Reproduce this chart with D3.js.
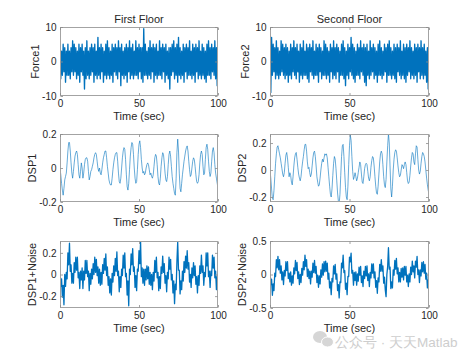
<!DOCTYPE html>
<html><head><meta charset="utf-8">
<script src="https://cdn.jsdelivr.net/npm/d3@7"></script>
<style>
body{margin:0;background:#fff}
svg{display:block}
text{font-family:"Liberation Sans",Arial,Helvetica,sans-serif;fill:#262626}
</style>
</head><body>
<svg id="c" width="474" height="356"></svg>
<script>
// Sampling interval of the values (seconds)
const tStep = 0.5;

const force1 = [
4,-5,3,-4,5,-3,4,-6,3,-4, 5,-4,3,-5,4,-3,6,-4,5,-3, 4,-5,3,-4,5,-6,4,-3,5,-4,
3,-8,4,-5,6,-4,3,-5,4,-4, 5,-3,4,-6,5,-4,3,-5,7,-4, 4,-5,5,-3,4,-6,3,-4,5,-5,
6,-4,4,-5,3,-4,5,-6,4,-3, 5,-4,4,-5,6,-3,4,-7,5,-4, 3,-5,4,-4,5,-6,4,-3,6,-5,
4,-4,5,-5,3,-4,6,-4,4,-5, 5,-3,4,-5,4,-6,9.5,-4,5,-4, 3,-5,4,-4,6,-5,4,-3,5,-6,
4,-4,5,-5,3,-4,6,-4,4,-5, 5,-3,4,-6,5,-4,3,-5,4,-8, 4,-4,5,-3,6,-5,4,-4,5,-6,
7,-4,4,-5,3,-4,5,-6,4,-3, 5,-5,4,-4,6,-4,3,-5,5,-4, 4,-6,5,-3,4,-5,6,-4,3,-5,
5,-4,4,-5,3,-6,5,-4,6,-4, 4,-5,5,-3,4,-4,6,-5,4,-7, 5];

const force2 = [
3,-9,7,-4,5,-3,4,-5,6,-4, 4,-5,3,-4,6,-3,5,-4,4,-5, 5,-4,4,-6,3,-4,5,-5,4,-3,
6,-4,4,-5,5,-3,3,-6,5,-4, 4,-5,6,-4,3,-4,5,-5,4,-6, 5,-3,4,-4,6,-5,3,-4,5,-4,
4,-6,5,-3,4,-5,3,-4,6,-4, 5,-5,4,-4,3,-6,5,-3,4,-5, 6,-4,4,-5,5,-3,4,-6,3,-4,
5,-4,6,-5,4,-7,3,-4,5,-5, 4,-3,7,-4,5,-5,4,-6,3,-4, 5,-4,4,-5,6,-3,4,-4,5,-6,
4,-7,5,-4,3,-5,6,-4,4,-3, 5,-5,4,-4,3,-6,5,-4,6,-4, 4,-5,3,-4,5,-3,4,-6,5,-4,
6,-4,4,-5,3,-4,5,-5,4,-6, 5,-3,4,-4,6,-5,3,-4,5,-5, 4,-6,5,-4,4,-3,6,-5,4,-4,
3,-5,5,-4,4,-6,5,-3,4,-5, 6,-4,4,-5,5,-4,3,-6,4,-8, 4];

const dsp1 = [
0.00,-0.04,-0.09,-0.13,-0.16,-0.12,-0.07,-0.05,-0.03,0.03,
0.10,0.15,0.15,0.10,0.03,-0.03,-0.06,-0.02,0.03,0.07,
0.09,0.10,0.08,0.02,-0.04,-0.06,-0.02,0.03,0.00,-0.06,
-0.03,0.02,0.05,0.06,0.06,0.04,-0.02,-0.07,-0.05,-0.02,
-0.01,0.01,0.03,0.06,0.08,0.09,0.08,0.04,0.00,-0.02,
0.00,-0.03,-0.04,-0.01,0.03,0.06,0.08,0.10,0.10,0.06,
0.01,-0.03,-0.07,-0.09,-0.10,-0.10,-0.06,-0.01,0.03,0.06,
0.08,0.09,0.09,0.04,-0.03,-0.08,-0.09,-0.06,0.00,0.06,
0.10,0.12,0.11,0.05,-0.04,-0.11,-0.13,-0.09,-0.01,0.07,
0.12,0.15,0.14,0.08,0.00,-0.06,-0.09,-0.08,-0.01,0.08,
0.14,0.16,0.12,0.05,0.00,-0.03,-0.02,-0.04,-0.03,0.00,
0.02,0.03,0.02,-0.01,-0.04,-0.03,-0.05,-0.06,-0.04,0.01,
0.06,0.08,0.07,0.02,-0.05,-0.09,-0.10,-0.06,0.01,0.06,
0.09,0.08,0.03,-0.03,-0.07,-0.08,-0.05,0.02,0.08,0.10,
0.07,0.01,-0.05,-0.09,-0.12,-0.15,-0.16,-0.06,0.09,0.17,
0.10,-0.03,-0.12,-0.14,-0.09,-0.04,0.00,0.04,0.07,0.10,
0.12,0.13,0.10,0.04,-0.01,-0.05,-0.04,0.00,0.04,0.06,
0.05,0.01,-0.04,-0.08,-0.09,-0.08,-0.04,0.03,0.08,0.10,
0.08,0.01,-0.04,-0.03,0.05,0.12,0.14,0.11,0.04,-0.02,
-0.05,-0.03,0.04,0.10,0.12,0.09,0.02,-0.03,-0.06,-0.09,
-0.12];

const dsp2 = [
0.00,-0.06,-0.14,-0.21,-0.22,-0.15,-0.05,0.05,0.12,0.17,
0.18,0.15,0.12,0.09,0.05,0.01,-0.03,-0.05,-0.02,0.05,
0.11,0.13,0.09,0.02,-0.05,-0.02,-0.04,-0.09,-0.11,-0.05,
0.03,0.09,0.12,0.13,0.08,0.02,-0.03,-0.06,-0.08,-0.05,
0.01,0.06,0.10,0.15,0.19,0.19,0.14,0.06,0.01,0.02,
-0.02,-0.05,-0.03,0.03,0.09,0.13,0.14,0.10,0.03,-0.05,
-0.09,-0.12,-0.11,-0.06,0.00,0.05,0.08,0.06,0.09,0.12,
0.11,0.12,0.09,0.02,-0.05,-0.12,-0.18,-0.20,-0.14,-0.04,
0.05,0.10,0.08,0.01,-0.08,-0.17,-0.23,-0.25,-0.18,-0.04,
0.10,0.18,0.19,0.10,-0.02,-0.13,-0.20,-0.22,-0.12,0.04,
0.18,0.26,0.22,0.10,-0.01,-0.07,-0.05,-0.02,-0.05,-0.08,
-0.06,-0.02,0.02,0.06,0.04,-0.03,-0.09,-0.10,-0.05,0.01,
0.04,0.05,0.04,-0.01,-0.06,-0.08,-0.05,0.02,0.07,0.10,
0.09,0.03,-0.05,-0.12,-0.17,-0.18,-0.12,-0.03,0.06,0.12,
0.14,0.12,0.04,-0.05,-0.11,-0.13,-0.07,0.06,0.18,0.27,
0.20,0.03,-0.14,-0.20,-0.12,0.00,0.08,0.13,0.15,0.14,
0.09,0.03,-0.02,-0.05,-0.04,0.00,0.04,0.03,0.01,0.04,
0.06,0.04,-0.02,-0.08,-0.10,-0.09,-0.04,0.03,0.09,0.13,
0.12,0.06,0.04,0.12,0.18,0.17,0.08,0.00,-0.03,-0.01,
0.05,0.10,0.13,0.12,0.10,0.06,0.00,-0.06,-0.11,-0.15,
-0.18];

const dsp1Noise = [
0.06,-0.11,-0.04,-0.21,-0.10,-0.28,0.00,-0.11,0.02,-0.04,
0.20,0.09,0.29,0.03,0.09,-0.08,0.01,-0.08,0.11,0.02,
0.16,0.04,0.16,-0.03,0.02,-0.13,0.03,-0.05,0.06,-0.13,
0.03,-0.05,0.13,0.01,0.13,-0.02,0.03,-0.15,0.01,-0.09,
0.05,-0.04,0.10,0.00,0.16,0.02,0.14,-0.01,0.07,-0.08,
0.05,-0.10,0.02,-0.09,0.09,0.01,0.15,0.04,0.19,-0.01,
0.07,-0.10,-0.02,-0.17,-0.04,-0.19,0.01,-0.07,0.08,-0.01,
0.15,0.03,0.21,-0.01,0.03,-0.16,-0.02,-0.12,0.05,-0.01,
0.18,0.06,0.20,-0.02,0.01,-0.19,-0.06,-0.29,0.05,0.00,
0.19,0.09,0.24,0.03,0.07,-0.12,-0.01,-0.15,0.05,0.03,
0.22,0.10,0.30,-0.02,0.06,-0.08,0.05,-0.10,0.05,-0.05,
0.08,-0.04,0.07,-0.09,0.02,-0.10,0.00,-0.14,0.02,-0.06,
0.13,0.02,0.16,-0.03,0.02,-0.15,-0.02,-0.13,0.07,0.01,
0.17,0.02,0.10,-0.08,-0.01,-0.16,0.02,-0.04,0.16,0.05,
0.14,-0.05,0.00,-0.17,-0.06,-0.27,-0.09,-0.14,0.12,0.30,
0.04,0.04,-0.18,-0.06,-0.14,0.03,-0.06,0.12,0.02,0.17,
0.06,0.22,0.05,0.11,-0.07,0.00,-0.12,0.06,-0.03,0.11,
-0.01,0.08,-0.09,-0.02,-0.17,-0.01,-0.10,0.08,0.01,0.18,
0.02,0.08,-0.10,0.02,-0.02,0.20,0.08,0.20,-0.02,0.03,
-0.12,0.03,-0.01,0.18,0.06,0.16,-0.03,0.03,-0.14,-0.02,
-0.20];

const dsp2Noise = [
0.08,-0.15,-0.07,-0.31,-0.14,-0.24,0.02,-0.03,0.22,0.10,
0.27,0.07,0.22,0.02,0.13,-0.08,0.04,-0.15,0.06,-0.02,
0.19,0.06,0.19,-0.06,0.02,-0.11,0.04,-0.16,-0.02,-0.13,
0.10,0.01,0.21,0.06,0.18,-0.06,0.04,-0.15,0.00,-0.12,
0.09,-0.01,0.19,0.07,0.29,0.12,0.22,-0.03,0.08,-0.06,
0.05,-0.14,0.05,-0.04,0.17,0.03,0.21,0.02,0.12,-0.12,
-0.01,-0.19,-0.02,-0.14,0.07,-0.04,0.16,-0.01,0.19,0.04,
0.20,0.05,0.17,-0.07,0.02,-0.20,-0.11,-0.30,-0.06,-0.11,
0.13,0.01,0.15,-0.07,0.01,-0.24,-0.15,-0.35,-0.11,-0.12,
0.17,0.10,0.29,0.03,0.06,-0.22,-0.13,-0.30,-0.03,-0.03,
0.26,0.19,0.32,0.02,0.06,-0.16,0.03,-0.09,0.04,-0.16,
0.01,-0.10,0.11,-0.01,0.12,-0.12,-0.02,-0.18,0.05,-0.06,
0.12,-0.02,0.13,-0.09,0.01,-0.18,0.03,-0.05,0.16,0.02,
0.16,-0.05,0.04,-0.19,-0.09,-0.28,-0.05,-0.11,0.15,0.05,
0.22,0.05,0.13,-0.13,-0.04,-0.23,-0.33,0.00,0.12,0.40,
0.08,0.11,-0.21,-0.11,-0.20,0.07,-0.01,0.21,0.08,0.24,
0.01,0.10,-0.11,0.03,-0.11,0.09,-0.04,0.10,-0.08,0.12,
-0.01,0.12,-0.11,-0.01,-0.18,0.01,-0.11,0.11,0.00,0.20,
0.04,0.13,-0.05,0.20,0.11,0.27,0.00,0.07,-0.12,0.07,
-0.02,0.18,0.04,0.19,0.02,0.15,-0.07,0.02,-0.20,-0.08,
-0.26];

const xDomain = [0, 100];
const xTicks = [0, 50, 100];
const xTickLabels = ["0", "50", "100"];
const xLabel = "Time (sec)";
const titles = ["First Floor", "Second Floor"];

const yLabels = ["Force1", "Force2", "DSP1", "DSP2", "DSP1+Noise", "DSP2+Noise"];
const yDomains = [[-10,10],[-10,10],[-0.2,0.2],[-0.237,0.267],[-0.31,0.31],[-0.5,0.5]];
const yTicks = [[-10,0,10],[-10,0,10],[-0.2,0,0.2],[-0.2,0,0.2],[-0.2,0,0.2],[-0.5,0,0.5]];
const yTickLabels = [["-10","0","10"],["-10","0","10"],["-0.2","0","0.2"],["-0.2","0","0.2"],["-0.2","0","0.2"],["-0.5","0","0.5"]];
const series = [force1, force2, dsp1, dsp2, dsp1Noise, dsp2Noise];

// Layout
const colX = [60, 270], colW = [158, 159];
const rowY = [27, 134, 241], rowH = [69, 68, 67];
const ylabOff = [25, 28, 28];
const lineW = [1.35, 0.6, 1.3];
const blue = "#0072BD";

const svg = d3.select("#c");

for (let k = 0; k < 6; k++) {
  const col = k % 2, row = Math.floor(k / 2);
  const L = colX[col], T = rowY[row], W = colW[col], H = rowH[row];
  const x = d3.scaleLinear().domain(xDomain).range([L, L + W]);
  const y = d3.scaleLinear().domain(yDomains[k]).range([T + H, T]);
  const g = svg.append("g");

  const cid = "clip" + k;
  svg.append("clipPath").attr("id", cid).append("rect")
    .attr("x", L).attr("y", T).attr("width", W).attr("height", H);

  const data = series[k];
  const line = d3.line().x((d, i) => x(i * tStep)).y(d => y(d));
  g.append("path").attr("d", line(data))
    .attr("clip-path", `url(#${cid})`)
    .attr("fill", "none").attr("stroke", blue)
    .attr("stroke-width", lineW[row]).attr("stroke-linejoin", "round");

  // box
  g.append("rect").attr("x", L + 0.5).attr("y", T + 0.5)
    .attr("width", W - 1).attr("height", H - 1)
    .attr("fill", "none").attr("stroke", "#a3a3a3").attr("stroke-width", 1);

  // axes with inward ticks (mirrored)
  const tl = 2.5;
  const ax = d3.axisBottom(x).tickValues(xTicks).tickSizeInner(-tl).tickSizeOuter(0)
    .tickFormat((d, i) => xTickLabels[i]).tickPadding(4);
  const gb = g.append("g").attr("transform", `translate(0,${T + H - 0.5})`).call(ax);
  const gt = g.append("g").attr("transform", `translate(0,${T + 0.5})`)
    .call(d3.axisTop(x).tickValues(xTicks).tickSizeInner(-tl).tickSizeOuter(0).tickFormat(""));
  const ay = d3.axisLeft(y).tickValues(yTicks[k]).tickSizeInner(-tl).tickSizeOuter(0)
    .tickFormat((d, i) => yTickLabels[k][i]).tickPadding(4);
  const gl = g.append("g").attr("transform", `translate(${L + 0.5},0)`).call(ay);
  const gr = g.append("g").attr("transform", `translate(${L + W - 0.5},0)`)
    .call(d3.axisRight(y).tickValues(yTicks[k]).tickSizeInner(-tl).tickSizeOuter(0).tickFormat(""));
  [gb, gt, gl, gr].forEach(a => {
    a.select(".domain").remove();
    a.selectAll(".tick line").attr("stroke", "#8c8c8c").attr("stroke-width", 0.8);
    a.selectAll("text").attr("font-size", 10).attr("fill", "#262626")
      .attr("font-family", '"Liberation Sans",Arial,sans-serif');
  });
  gb.selectAll("text").attr("dy", "0.71em");

  // labels
  g.append("text").attr("x", L + W / 2).attr("y", T + H + 24)
    .attr("text-anchor", "middle").attr("font-size", 11).text(xLabel);
  g.append("text")
    .attr("transform", `translate(${L - ylabOff[row]},${T + H / 2}) rotate(-90)`)
    .attr("text-anchor", "middle").attr("dy", "0.35em").attr("font-size", 11)
    .text(yLabels[k]);
  if (row === 0) {
    g.append("text").attr("x", L + W / 2).attr("y", T - 4)
      .attr("text-anchor", "middle").attr("font-size", 11).text(titles[col]);
  }
}

// watermark
const wm = svg.append("g").attr("opacity", 0.75);
wm.append("ellipse").attr("cx", 320).attr("cy", 337).attr("rx", 7).attr("ry", 6).attr("fill", "#c9c9c9");
wm.append("ellipse").attr("cx", 327.5).attr("cy", 342).attr("rx", 6).attr("ry", 5)
  .attr("fill", "#c9c9c9").attr("stroke", "#fff").attr("stroke-width", 1);
wm.append("text").attr("x", 335).attr("y", 347).attr("font-size", 13.5)
  .attr("font-family", '"Noto Sans CJK SC",sans-serif').style("fill", "#bdbdbd")
  .text("公众号 · 天天Matlab");
</script>
</body></html>
